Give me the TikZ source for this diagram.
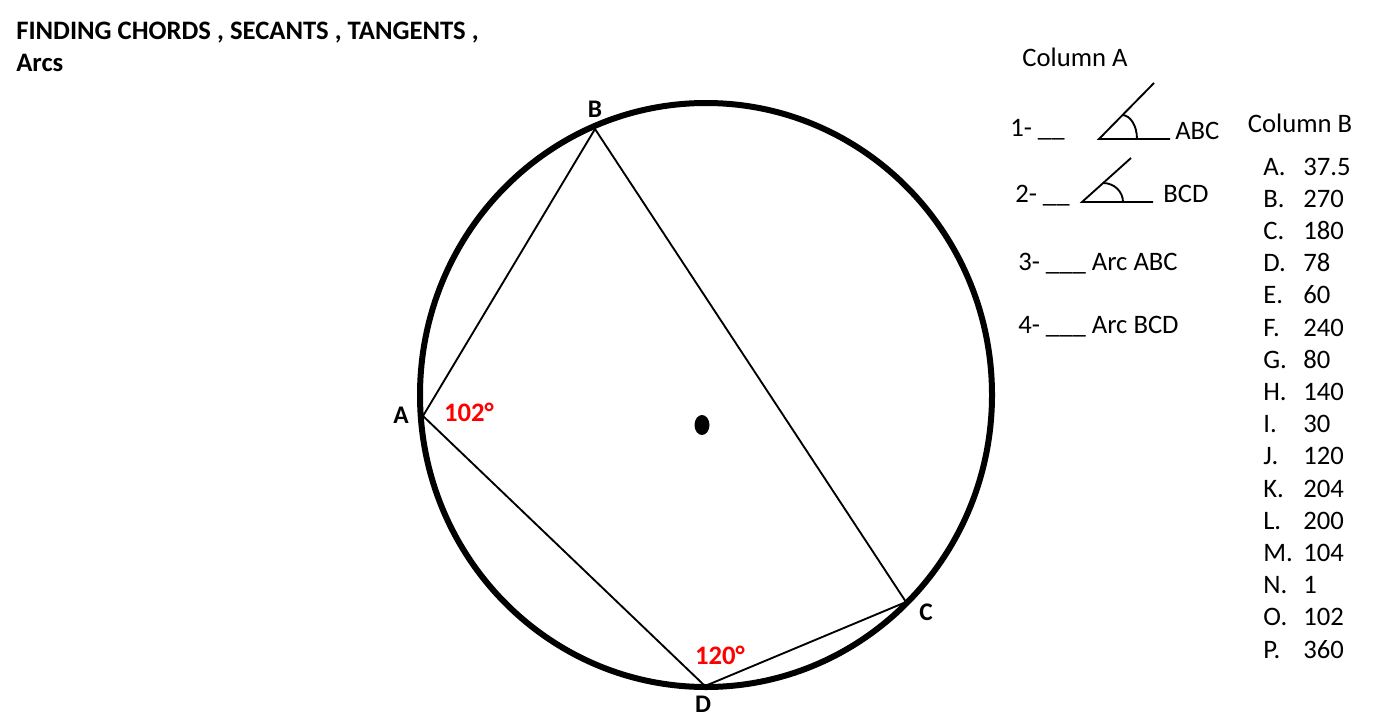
\documentclass[tikz,border=0pt]{standalone}
\usepackage{fontspec}
\setmainfont{Carlito}
\begin{document}
\begin{tikzpicture}[x=0.75pt,y=-0.75pt,
    vertexlabel/.style={font=\fontsize{19}{22}\selectfont\bfseries, inner sep=1pt},
    degreelabel/.style={font=\fontsize{20}{24}\selectfont\bfseries, text=red},
    coltext/.style={font=\fontsize{20}{24}\selectfont, anchor=base west, inner sep=0pt},
    thinline/.style={line width=1.4pt}]

    \useasboundingbox (0,0) rectangle (1398,717);

    % Title
    \node[coltext, font=\fontsize{20}{24}\selectfont\bfseries] (title) at (16,40)
      {FINDING CHORDS , SECANTS , TANGENTS ,};
    \node[coltext, font=\fontsize{20}{24}\selectfont\bfseries] (arcs) at (16,72) {Arcs};

    % --- Circle with inscribed quadrilateral ---
    \draw[line width=4.5pt] (706,395) ellipse [x radius=286, y radius=292];
    \fill (702,425) ellipse [x radius=7.5, y radius=10];

    \coordinate (A) at (423,416);
    \coordinate (B) at (595,129);
    \coordinate (C) at (906,602);
    \coordinate (D) at (705,686);
    \draw[thinline] (A) -- (B) -- (C) -- (D) -- cycle;

    \node[vertexlabel] (labA) at (401,415) {A};
    \node[vertexlabel] (labB) at (595,109) {B};
    \node[vertexlabel] (labC) at (926,612) {C};
    \node[vertexlabel, inner sep=0pt] (labD) at (703,704) {D};

    % Given angles
    \node[degreelabel] (angA) at (469,412) {102°};
    \node[degreelabel] (angD) at (720,655) {120°};

    % --- Column A ---
    \node[coltext, anchor=base] (colA) at (1075,67) {Column A};

    \node[coltext] (q1) at (1010,136) {1- \_\_};
    \coordinate (v1) at (1099,139);
    \draw[thinline] (1170,139) -- (v1) -- (1154,83);
    \draw[thinline] (1137,139) arc[start angle=0, end angle=-90, x radius=15, y radius=24];
    \node[coltext] (nameABC) at (1175,139) {ABC};

    \node[coltext] (q2) at (1015,202) {2- \_\_};
    \coordinate (v2) at (1082,202);
    \draw[thinline] (1153,202) -- (v2) -- (1131,158);
    \draw[thinline] (1123,202) arc[start angle=0, end angle=-90, x radius=20, y radius=19];
    \node[coltext] (nameBCD) at (1163,202) {BCD};

    \node[coltext] (q3) at (1018,270) {3- \_\_\_ Arc ABC};
    \node[coltext] (q4) at (1018,333) {4- \_\_\_ Arc BCD};

    % --- Column B ---
    \node[coltext, anchor=base] (colB) at (1300,132) {Column B};
    \foreach \lt/\val [count=\i from 0] in {A/37.5, B/270, C/180, D/78, E/60, F/240,
        G/80, H/140, I/30, J/120, K/204, L/200, M/104, N/1, O/102, P/360} {
      \node[coltext] (let\lt) at (1263,175+32.2*\i) {\lt.};
      \node[coltext] (val\lt) at (1303,175+32.2*\i) {\val};
    }

\end{tikzpicture}
\end{document}
